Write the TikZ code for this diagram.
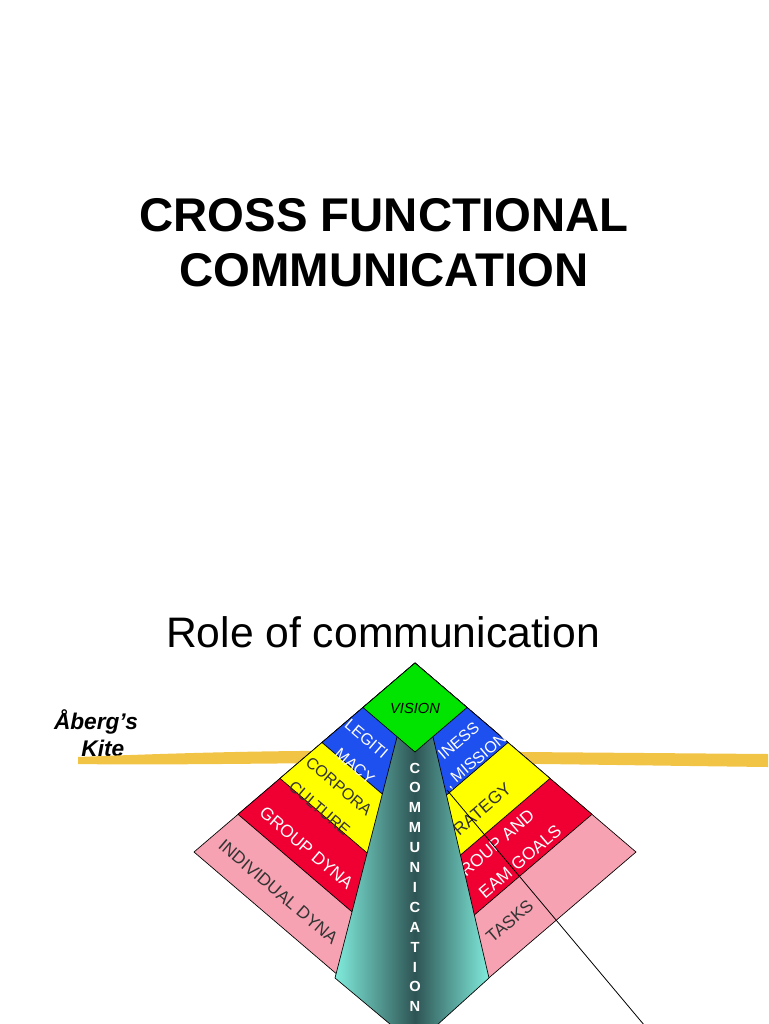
\documentclass[tikz,border=0pt]{standalone}
\usepackage{fontspec}
\setmainfont{Liberation Sans}
\begin{document}
\begin{tikzpicture}[x=0.75pt,y=-0.75pt,
  lab/.style={font=\fontsize{12}{13}\selectfont, inner sep=0pt},
  big/.style={font=\fontsize{13}{14}\selectfont},
  band/.style={draw=black, line width=0.5pt}]
\definecolor{kgreen}{RGB}{0,228,0}
\definecolor{kblue}{RGB}{30,80,240}
\definecolor{kyellow}{RGB}{255,255,0}
\definecolor{kred}{RGB}{240,0,50}
\definecolor{kpink}{RGB}{246,162,178}
\definecolor{brush}{RGB}{242,196,70}
\definecolor{blight}{RGB}{128,236,220}
\definecolor{bdark}{RGB}{46,84,84}
\useasboundingbox (0,0) rectangle (768,1024);
\clip (0,0) rectangle (768,1024);
\fill[white] (0,0) rectangle (768,1024);
% titles
\node[font=\bfseries\fontsize{35.5}{41}\selectfont, align=center] (title) at (384,243) {CROSS FUNCTIONAL\\COMMUNICATION};
\node[font=\fontsize{32}{38}\selectfont] (role) at (383,632) {Role of communication};
\node[font=\bfseries\itshape\fontsize{17}{20}\selectfont, align=center] (kite) at (96,733) {Åberg's\\\hspace*{0.6em}Kite};
% brush stroke
\fill[brush] (78,757) .. controls (200,752) and (300,750) .. (400,751) -- (768,754) -- (768,767) .. controls (600,765) and (450,762) .. (330,763) .. controls (220,764) and (140,765) .. (78,764) -- cycle;
% nested diamonds
\draw[band, fill=kpink] (415,663) -- (194,852) -- (415,1041) -- (636,852) -- cycle;
\draw[band, fill=kred] (415,663) -- (238,814.3) -- (415,965.7) -- (592,814.3) -- cycle;
\draw[band, fill=kyellow] (415,663) -- (280,778.4) -- (415,893.9) -- (550,778.4) -- cycle;
\draw[band, fill=kblue] (415,663) -- (322,742.5) -- (415,822) -- (508,742.5) -- cycle;
% band labels (visible parts)
\begin{scope}[lab]
\node[white, anchor=west, rotate=-40.5] (l1a) at (347,722) {LEGITI};
\node[white, anchor=west, rotate=-40.5] (l1b) at (337,751) {MACY};
\node[black!80, anchor=west, rotate=-40.5] (l2a) at (308,760) {CORPORA};
\node[black!80, anchor=west, rotate=-40.5] (l2b) at (291,784) {CULTURE};
\node[white, anchor=west, rotate=-40.5, big] (l3) at (262,810) {GROUP DYNA};
\node[black!80, anchor=west, rotate=-40.5, big] (l4) at (221,843) {INDIVIDUAL DYNA};
\node[white, anchor=east, rotate=40.5] (r1a) at (477,725) {INESS};
\node[white, anchor=east, rotate=40.5] (r1b) at (505,736) {, MISSION};
\node[black!80, anchor=east, rotate=40.5, big] (r2) at (509,786) {RATEGY};
\node[white, anchor=east, rotate=40.5, big] (r3a) at (532,813) {ROUP AND};
\node[white, anchor=east, rotate=40.5, big] (r3b) at (559,828) {EAM GOALS};
\node[black!80, anchor=east, rotate=40.5, big] (r4) at (531,903) {TASKS};
\end{scope}
% communication beam
\shade[left color=blight, right color=bdark] (397,737) -- (415,737) -- (415,1045) -- (335,978) -- cycle;
\shade[left color=bdark, right color=blight] (415,737) -- (433,737) -- (489,978) -- (415,1045) -- cycle;
\draw[line width=0.5pt] (397,737) -- (335,978) -- (415,1045) -- (489,978) -- (433,737);
% vision
\draw[band, fill=kgreen] (415,663) -- (363,707.5) -- (415,752) -- (467,707.5) -- cycle;
\node[lab, font=\itshape\fontsize{11}{12}\selectfont] (vision) at (415,708) {VISION};
% letters
\foreach \ch [count=\i from 0] in {C,O,M,M,U,N,I,C,A,T,I,O,N}
  \node[white, font=\bfseries\fontsize{11}{12}\selectfont, inner sep=0pt] (c\i) at (415,768+19.9*\i) {\ch};
% thin line
\coordinate (ls) at (447,790);
\coordinate (le) at (650,1032);
\draw[line width=0.6pt] (ls) -- (le);
\end{tikzpicture}
\end{document}
